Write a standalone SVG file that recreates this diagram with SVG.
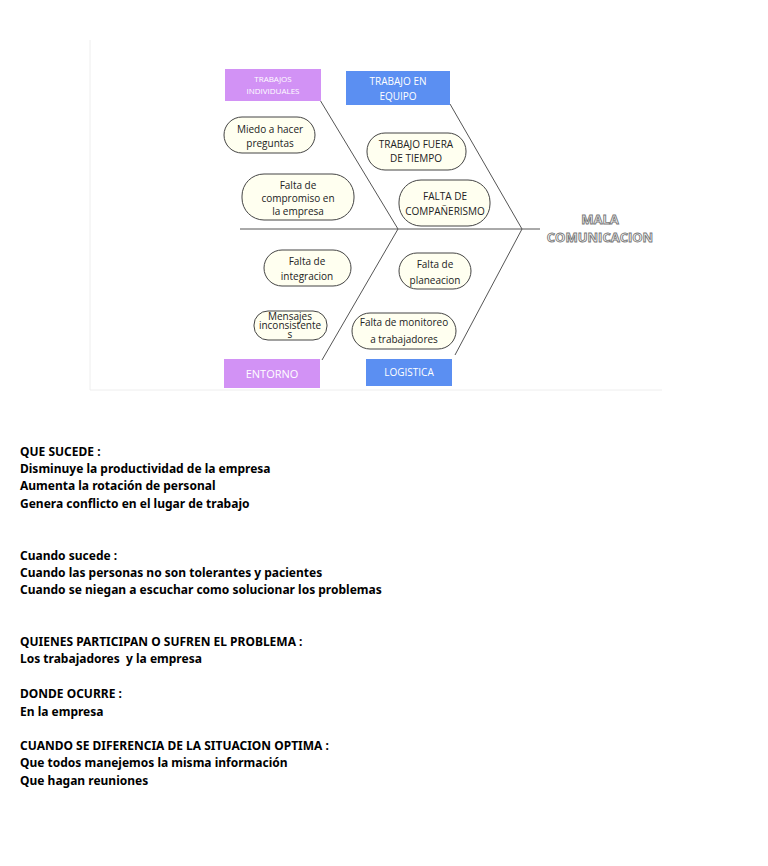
<svg xmlns="http://www.w3.org/2000/svg" width="768" height="866" viewBox="0 0 768 866">
<style>
.box text{font-family:"Open Sans","Liberation Sans",sans-serif;fill:#fff;text-anchor:middle}
.el ellipse,.el rect{fill:#fffff0;stroke:#444;stroke-width:1}
.el text{font-family:"Open Sans","Liberation Sans",sans-serif;font-size:10px;fill:#222;text-anchor:middle}
.ln{stroke:#555;stroke-width:1;fill:none}
.body{font-family:"Noto Sans","Liberation Sans",sans-serif;font-size:12px;font-weight:bold;fill:#000}
.mala{font-family:"Open Sans","Liberation Sans",sans-serif;font-size:13px;font-weight:bold;fill:#fff;stroke:#777;stroke-width:0.9;text-anchor:middle}
</style>
<rect width="768" height="866" fill="#fff"/>
<line x1="90" y1="40" x2="90" y2="390" stroke="#eee"/>
<line x1="90" y1="390" x2="662" y2="390" stroke="#eee"/>
<g id="connectors">
<line class="ln" x1="240" y1="229" x2="540" y2="229"/>
<line class="ln" x1="320" y1="100" x2="398" y2="229"/>
<line class="ln" x1="450" y1="104" x2="522" y2="229"/>
<line class="ln" x1="398" y1="229" x2="322" y2="360"/>
<line class="ln" x1="522" y1="229" x2="455" y2="355"/>
</g>
<g id="n-individuales" class="box"><rect x="225" y="69" width="96" height="32" fill="#d292f5"/><text x="273" y="82" font-size="8">TRABAJOS</text><text x="273" y="94" font-size="8">INDIVIDUALES</text></g>
<g id="n-equipo" class="box"><rect x="346" y="71" width="104" height="34" fill="#5b8ff2"/><text x="398" y="85" font-size="10">TRABAJO EN</text><text x="398" y="100" font-size="10">EQUIPO</text></g>
<g id="n-entorno" class="box"><rect x="224" y="359" width="96" height="29" fill="#d292f5"/><text x="272" y="378" font-size="11">ENTORNO</text></g>
<g id="n-logistica" class="box"><rect x="366" y="359" width="86" height="27" fill="#5b8ff2"/><text x="409" y="376" font-size="10">LOGISTICA</text></g>
<g id="n-miedo" class="el"><rect x="224" y="117" width="91" height="36" rx="18"/><text x="270" y="133">Miedo a hacer</text><text x="270" y="147">preguntas</text></g>
<g id="n-fuera" class="el"><rect x="367" y="133" width="99" height="37" rx="18"/><text x="416" y="148">TRABAJO FUERA</text><text x="416" y="162">DE TIEMPO</text></g>
<g id="n-compromiso" class="el"><rect x="242" y="174" width="112" height="46" rx="22"/><text x="298" y="189" font-size="9.5">Falta de</text><text x="298" y="202" font-size="9.5">compromiso en</text><text x="298" y="215" font-size="9.5">la empresa</text></g>
<g id="n-companerismo" class="el"><rect x="399" y="180" width="91" height="46" rx="22"/><text x="445" y="200">FALTA DE</text><text x="445" y="215">COMPAÑERISMO</text></g>
<g id="n-integracion" class="el"><rect x="264" y="250" width="87" height="36" rx="18"/><text x="307" y="265">Falta de</text><text x="307" y="280">integracion</text></g>
<g id="n-planeacion" class="el"><rect x="399" y="253" width="72" height="36" rx="18"/><text x="435" y="268">Falta de</text><text x="435" y="284">planeacion</text></g>
<g id="n-mensajes" class="el"><rect x="254" y="311" width="73" height="29" rx="14"/><text x="290" y="320" font-size="6.5">Mensajes</text><text x="290" y="329" font-size="6.5">inconsistente</text><text x="290" y="338" font-size="6">s</text></g>
<g id="n-monitoreo" class="el"><rect x="352" y="313" width="104" height="36" rx="18"/><text x="404" y="326">Falta de monitoreo</text><text x="404" y="343">a trabajadores</text></g>
<g id="n-mala"><text class="mala" x="600" y="224">MALA</text><text class="mala" x="600" y="242">COMUNICACION</text></g>
<g class="body">
<text x="20" y="456">QUE SUCEDE :</text>
<text x="20" y="473">Disminuye la productividad de la empresa</text>
<text x="20" y="490">Aumenta la rotación de personal</text>
<text x="20" y="508">Genera conflicto en el lugar de trabajo</text>
<text x="20" y="560">Cuando sucede :</text>
<text x="20" y="577">Cuando las personas no son tolerantes y pacientes</text>
<text x="20" y="594">Cuando se niegan a escuchar como solucionar los problemas</text>
<text x="20" y="646">QUIENES PARTICIPAN O SUFREN EL PROBLEMA :</text>
<text x="20" y="663" xml:space="preserve">Los trabajadores  y la empresa</text>
<text x="20" y="698">DONDE OCURRE :</text>
<text x="20" y="716">En la empresa</text>
<text x="20" y="750">CUANDO SE DIFERENCIA DE LA SITUACION OPTIMA :</text>
<text x="20" y="767">Que todos manejemos la misma información</text>
<text x="20" y="785">Que hagan reuniones</text>
</g>
</svg>
